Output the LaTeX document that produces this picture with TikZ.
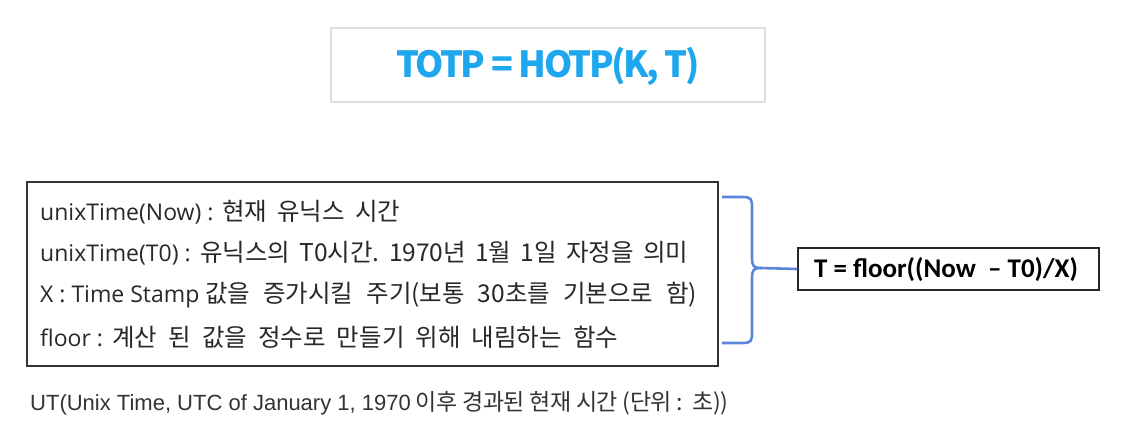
\documentclass[tikz,border=0pt]{standalone}
\usepackage{fontspec}
\setmainfont{Noto Sans CJK KR}
\newfontfamily\calib{Carlito}
\newfontfamily\titlefont[LetterSpace=-7]{Noto Sans CJK KR}
\newfontfamily\latfont{Open Sans}
\newfontfamily\krfont{Noto Sans CJK KR}
\newfontfamily\utlat{Liberation Sans}
\newfontfamily\utkr[LetterSpace=-2]{Noto Sans CJK KR}
\newcommand\lt[2]{\makebox[#1][l]{\latfont #2}}
\newcommand\kr[2]{\makebox[#1][s]{\krfont\fontsize{24.5}{28}\selectfont\frenchspacing #2}}
\definecolor{totpblue}{HTML}{1EA6EE}
\definecolor{boxgray}{HTML}{DEDEDE}
\definecolor{bracecol}{HTML}{5B84DA}
\definecolor{txtgray}{HTML}{282828}
\definecolor{utgray}{HTML}{333333}
\begin{document}
\begin{tikzpicture}[x=1pt,y=-1pt,
  formulabox/.style={draw=boxgray,line width=2pt,minimum width=434pt,minimum height=74pt,inner sep=0pt},
  defbox/.style={draw=txtgray!95,line width=1.8pt,minimum width=691pt,minimum height=184pt,inner sep=0pt},
  defline/.style={anchor=west,inner sep=0pt,font=\fontsize{23}{26}\selectfont,text=txtgray},
  resbox/.style={draw=black!85,line width=1.5pt,minimum width=301pt,minimum height=42pt,inner sep=0pt},
  brace/.style={draw=bracecol,line width=2.6pt}]
\useasboundingbox (0,0) rectangle (1132,429);
\fill[white] (0,0) rectangle (1132,429);
\node[formulabox] (totp) at (548,65) {};
\node[inner sep=0pt,text=totpblue,font=\titlefont\fontsize{36}{40}\bfseries\selectfont] (totptxt) at (548,66) {TOTP = HOTP(K, T)};
\node[defbox] (defs) at (372.5,274) {};
\node[defline] (l1) at (40,212) {\lt{182pt}{unixTime(Now) :}\kr{178pt}{현재 유닉스 시간}};
\node[defline] (l2) at (40,253) {\lt{160pt}{unixTime(T0) :}\kr{488pt}{유닉스의 T0시간. 1970년 1월 1일 자정을 의미}};
\node[defline] (l3) at (40,295) {\lt{165pt}{X : Time Stamp}\kr{492pt}{값을 증가시킬 주기(보통 30초를 기본으로 함)}};
\node[defline] (l4) at (40,337) {\lt{72pt}{floor :}\kr{506pt}{계산 된 값을 정수로 만들기 위해 내림하는 함수}};
\node[resbox] (res) at (948.5,269) {};
\node[inner sep=0pt,font=\calib\bfseries\fontsize{27}{30}\selectfont] (restxt) at (946,270) {T = floor((Now\ \ – T0)/X)};
\coordinate (btop) at (722,197);
\coordinate (bbot) at (722,343);
\coordinate (btip) at (760,268);
\path[brace] (btop) -- (742,197) .. controls (752,197) and (752,199) .. (752,209)
  -- (752,258) .. controls (752,266) and (754,268) .. (btip)
  .. controls (754,268) and (752,270) .. (752,278)
  -- (752,331) .. controls (752,341) and (752,343) .. (742,343) -- (bbot);
\draw[brace] (btip) -- (res.west);
\node[anchor=west,inner sep=0pt,text=utgray,font=\fontsize{22}{26}\selectfont] (ut) at (30,403) {{\utlat UT(Unix Time, UTC of January 1, 1970} {\utkr\fontsize{23}{26}\selectfont 이후 경과된 현재 시간 (단위 :\ \ 초))}};
\end{tikzpicture}
\end{document}
